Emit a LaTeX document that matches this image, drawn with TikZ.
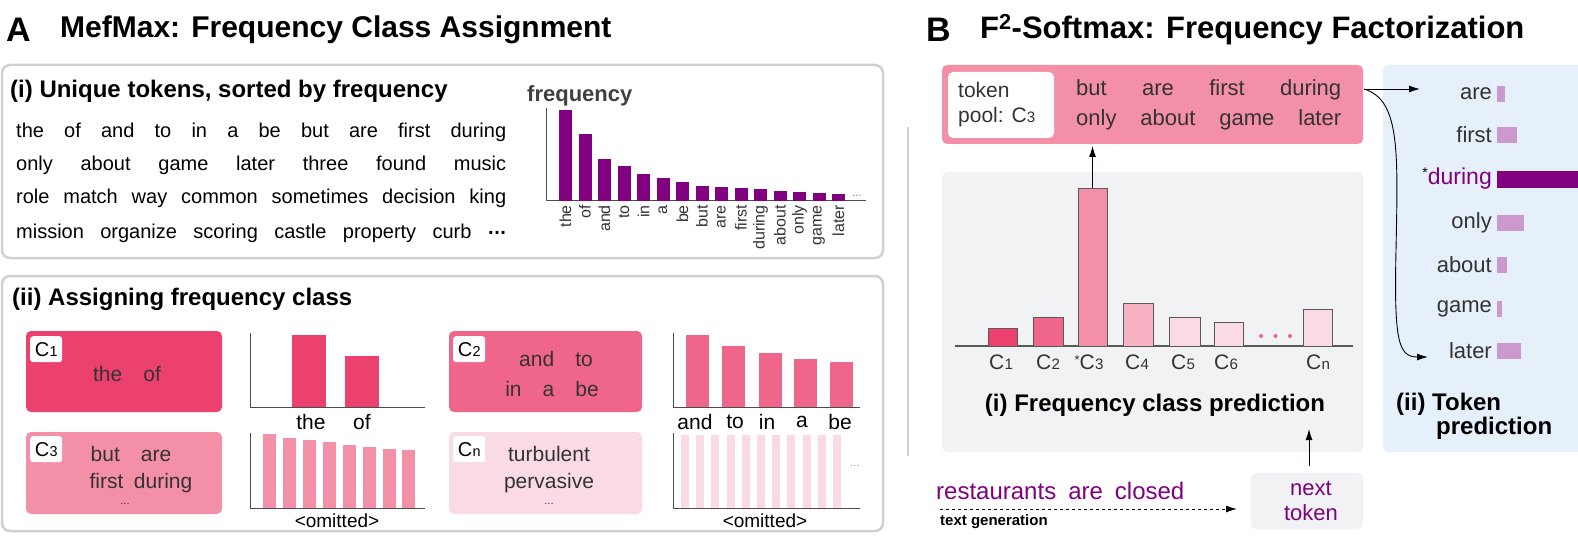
\documentclass[tikz,border=0pt]{standalone}
\usepackage{fontspec}
\usepackage{graphicx}
\usetikzlibrary{arrows.meta}
\setmainfont{Liberation Sans}
\newfontfamily\djv{DejaVu Sans}
\definecolor{pkA}{HTML}{EC416E}
\definecolor{pkB}{HTML}{F0668A}
\definecolor{pkC}{HTML}{F48FA8}
\definecolor{pkD}{HTML}{F7B3C5}
\definecolor{pkN}{HTML}{FADBE3}
\definecolor{purp}{HTML}{800080}
\definecolor{lpurp}{HTML}{CC99CC}
\definecolor{grayf}{HTML}{F1F2F4}
\definecolor{bluef}{HTML}{E6F0FB}
\definecolor{bord}{HTML}{D0D0D0}
\newcommand\fsz[1]{\fontsize{#1}{#1}\selectfont}
\newcommand\cls[1]{C\kern0.3pt\scalebox{0.72}{#1}}
\tikzset{
  panel/.style={draw=bord,line width=2.5pt,rounded corners=8pt},
  txt/.style={inner sep=0pt,anchor=west,font=\fsz{20}},
  lbl/.style={inner sep=0pt,font=\fsz{21}},
  obar/.style={fill=#1,draw=gray!70!black,line width=0.6pt},
  clsbox/.style={fill=#1,rounded corners=5pt,draw=none},
  tag/.style={fill=white,rounded corners=3pt,inner sep=2pt,font=\fsz{20},minimum width=32pt,minimum height=26pt},
  axis/.style={draw=gray!60!black,line width=1pt},
  arr/.style={-{Latex[length=11pt,width=7pt]},line width=0.9pt},
}
\begin{document}
\begin{tikzpicture}[x=1pt,y=-1pt]
\useasboundingbox (0,0) rectangle (1578,537);
% headers
\node[anchor=west,inner sep=0pt,font=\fsz{34}\bfseries] (A) at (6,30) {A};
\node[anchor=west,inner sep=0pt,font=\fsz{30}\bfseries] (At) at (60,30) {MefMax: Frequency Class Assignment};
\node[anchor=west,inner sep=0pt,font=\fsz{34}\bfseries] (B) at (926,30) {B};
\node[anchor=west,inner sep=0pt,font=\fsz{31}\bfseries] (Bt) at (980,30) {F\textsuperscript{2}-Softmax: Frequency Factorization};
% panel i
\draw[panel] (2,65) rectangle (883,258);
\node[anchor=west,inner sep=0pt,font=\fsz{24}\bfseries] (ti) at (10,91) {(i) Unique tokens, sorted by frequency};
\node[txt] (w1) at (16,132) {\hbox to 490pt{the\hfill of\hfill and\hfill to\hfill in\hfill a\hfill be\hfill but\hfill are\hfill first\hfill during}};
\node[txt] (w2) at (16,165) {\hbox to 490pt{only\hfill about\hfill game\hfill later\hfill three\hfill found\hfill music}};
\node[txt] (w3) at (16,198) {\hbox to 490pt{role\hfill match\hfill way\hfill common\hfill sometimes\hfill decision\hfill king}};
\node[txt] (w4) at (16,233) {\hbox to 490pt{mission\hfill organize\hfill scoring\hfill castle\hfill property\hfill curb\hfill{\djv\fsz{16}\textbf{···}}}};
\node[anchor=west,inner sep=0pt,font=\fsz{22}\bfseries,text=black!75] (fq) at (527,96) {frequency};
\draw[axis] (546,108) -- (546,201) -- (866,201);
\foreach \t [count=\i from 0] in {110,134,159,166,174,178,182,186,187,188,189.5,191,192,193,194}
  \fill[purp] (559+19.5*\i,\t) rectangle (572+19.5*\i,201);
\foreach \w [count=\i from 0] in {the,of,and,to,in,a,be,but,are,first,during,about,only,game,later}
  \node[anchor=east,rotate=90,inner sep=0pt,font=\fsz{16},text=black!80] at (565.5+19.5*\i,205) {\w};
\node[inner sep=0pt,font=\fsz{12},text=purp!60] (dd) at (857,196) {...};
% panel ii
\draw[panel] (2,276) rectangle (883,531);
\node[anchor=west,inner sep=0pt,font=\fsz{24}\bfseries] (tii) at (12,299) {(ii) Assigning frequency class};
% C1
\fill[clsbox=pkA] (26,331) rectangle (222,412);
\node[tag,anchor=north west] (c1) at (30,336) {\cls{1}};
\node[lbl,text=black!80] (c1t) at (127,374) {the\quad of};
\draw[axis] (250,333) -- (250,407) -- (425,407);
\fill[pkA] (292,335) rectangle (326,407);
\fill[pkA] (345,356) rectangle (379,407);
\node[lbl] (l1a) at (311,422) {the};
\node[lbl] (l1b) at (362,422) {of};
% C2
\fill[clsbox=pkB] (449,331) rectangle (642,412);
\node[tag,anchor=north west] (c2) at (453,336) {\cls{2}};
\node[lbl,text=black!80] (c2a) at (556,359) {and\quad to};
\node[lbl,text=black!80] (c2b) at (552,389) {in\quad a\quad be};
\draw[axis] (673,333) -- (673,407) -- (860,407);
\foreach \x/\t in {686/335,722/346,759/353,794/359,830/362}
  \fill[pkB] (\x,\t) rectangle (\x+23,407);
\foreach \x/\w in {695/and,735/to,767/in,802/a,840/be}
  \node[lbl] at (\x,422) {\w};
% C3
\fill[clsbox=pkC] (26,432) rectangle (222,514);
\node[tag,anchor=north west] (c3) at (30,436) {\cls{3}};
\node[lbl,text=black!80] (c3a) at (131,454) {but\quad are};
\node[lbl,text=black!80] (c3b) at (141,483) {first\enspace during};
\node[lbl,font=\fsz{11},text=black!80] (c3c) at (125,504) {...};
\draw[axis] (250,433) -- (250,508) -- (425,508);
\foreach \x/\t in {263/434,283/438,303/440,323/442,343/445,363/447,383/449,402/450}
  \fill[pkC] (\x,\t) rectangle (\x+13,508);
\node[lbl,font=\fsz{19}] (om1) at (337,521) {<omitted>};
% Cn
\fill[clsbox=pkN] (449,432) rectangle (642,514);
\node[tag,anchor=north west] (cn) at (453,436) {\cls{n}};
\node[lbl,text=black!80] (cna) at (549,454) {turbulent};
\node[lbl,text=black!80] (cnb) at (549,483) {pervasive};
\node[lbl,font=\fsz{11},text=black!80] (cnc) at (549,504) {...};
\draw[axis] (673,433) -- (673,508) -- (860,508);
\foreach \i in {0,...,10}
  \fill[pkN] (681+15.2*\i,435) rectangle (689+15.2*\i,508);
\node[lbl,font=\fsz{11},text=black!40] (cnd) at (855,466) {...};
\node[lbl,font=\fsz{19}] (om2) at (765,521) {<omitted>};
% divider
\draw[bord,line width=2pt] (908,127) -- (908,456);
% B: token pool
\fill[clsbox=pkC] (942,65) rectangle (1363,144);
\fill[white,rounded corners=5pt] (948,72) rectangle (1054,138);
\node[anchor=west,inner sep=0pt,font=\fsz{21},text=black!80] (tp1) at (958,90) {token};
\node[anchor=west,inner sep=0pt,font=\fsz{21},text=black!80] (tp2) at (958,117) {pool: \cls{3}};
\node[txt,font=\fsz{22},text=black!80] (pw1) at (1076,90) {\hbox to 265pt{but\hfill are\hfill first\hfill during}};
\node[txt,font=\fsz{22},text=black!80] (pw2) at (1076,120) {\hbox to 265pt{only\hfill about\hfill game\hfill later}};
\coordinate (poolR) at (1364,89);
% gray panel
\fill[grayf,rounded corners=6pt] (942,172) rectangle (1363,452);
\draw[line width=1.5pt,gray!70!black] (955,346) -- (1353,346);
\draw[obar=pkA] (988,328) rectangle (1017,346);
\draw[obar=pkB] (1033,317) rectangle (1063,346);
\draw[obar=pkC] (1078,188) rectangle (1107,346);
\coordinate (c3top) at (1092.5,188);
\draw[obar=pkD] (1123,303) rectangle (1153,346);
\draw[obar=pkN] (1169,317) rectangle (1200,346);
\draw[obar=pkN] (1214,322) rectangle (1243,346);
\draw[obar=pkN] (1303,309) rectangle (1332,346);
\foreach \x in {1261,1275.5,1290} \fill[pkB] (\x,336) circle (2);
\foreach \x/\n in {1001/1,1048/2,1137/4,1183/5,1226/6,1318/n}
  \node[lbl,text=black!80] at (\x,362) {\cls{\n}};
\node[lbl,text=black!80] (lc3) at (1089,362) {\raisebox{5pt}{\fsz{13}*}\cls{3}};
\node[inner sep=0pt,font=\fsz{24}\bfseries] (fcp) at (1155,405) {(i) Frequency class prediction};
\draw[arr] (c3top) -- (1092.5,146);
% next token
\fill[grayf,rounded corners=5pt] (1251,473) rectangle (1363,529);
\node[inner sep=0pt,align=center,font=\fsz{22},text=purp] (nt) at (1311,501) {next\\[3pt]token};
\draw[arr] (1309,466) -- (1309,429);
\node[anchor=west,inner sep=0pt,font=\fsz{24},text=purp] (rac) at (936,491) {restaurants\enspace are\enspace closed};
\draw[arr,dashed] (940,509) -- (1237,509);
\node[anchor=west,inner sep=0pt,font=\fsz{15}\bfseries] (tg) at (940,522) {text generation};
% token prediction panel
\fill[bluef,rounded corners=6pt] (1383,65) rectangle (1585,452);
\foreach \y/\w/\l in {94/are/8,135/first/20,223/only/27,265/about/10,309/game/5,351/later/24}{
  \node[anchor=east,inner sep=0pt,font=\fsz{22},text=black!80] at (1492,\y) {\w};
  \fill[lpurp] (1497,\y-8) rectangle (1497+\l,\y+8);
}
\node[anchor=east,inner sep=0pt,font=\fsz{23},text=purp] (dur) at (1492,179) {\raisebox{7pt}{\fsz{14}\color{black}*}during};
\fill[purp] (1497,171) rectangle (1578,188);
\node[anchor=west,inner sep=0pt,font=\fsz{24}\bfseries] (tp_a) at (1396,404) {(ii) Token};
\node[anchor=west,inner sep=0pt,font=\fsz{24}\bfseries] (tp_b) at (1436,428) {prediction};
\draw[arr] (poolR) -- (1420,89);
\draw[arr] (poolR) .. controls (1400,100) and (1398,150) .. (1396,250) .. controls (1394,340) and (1398,357) .. (1428,357);
\end{tikzpicture}
\end{document}
